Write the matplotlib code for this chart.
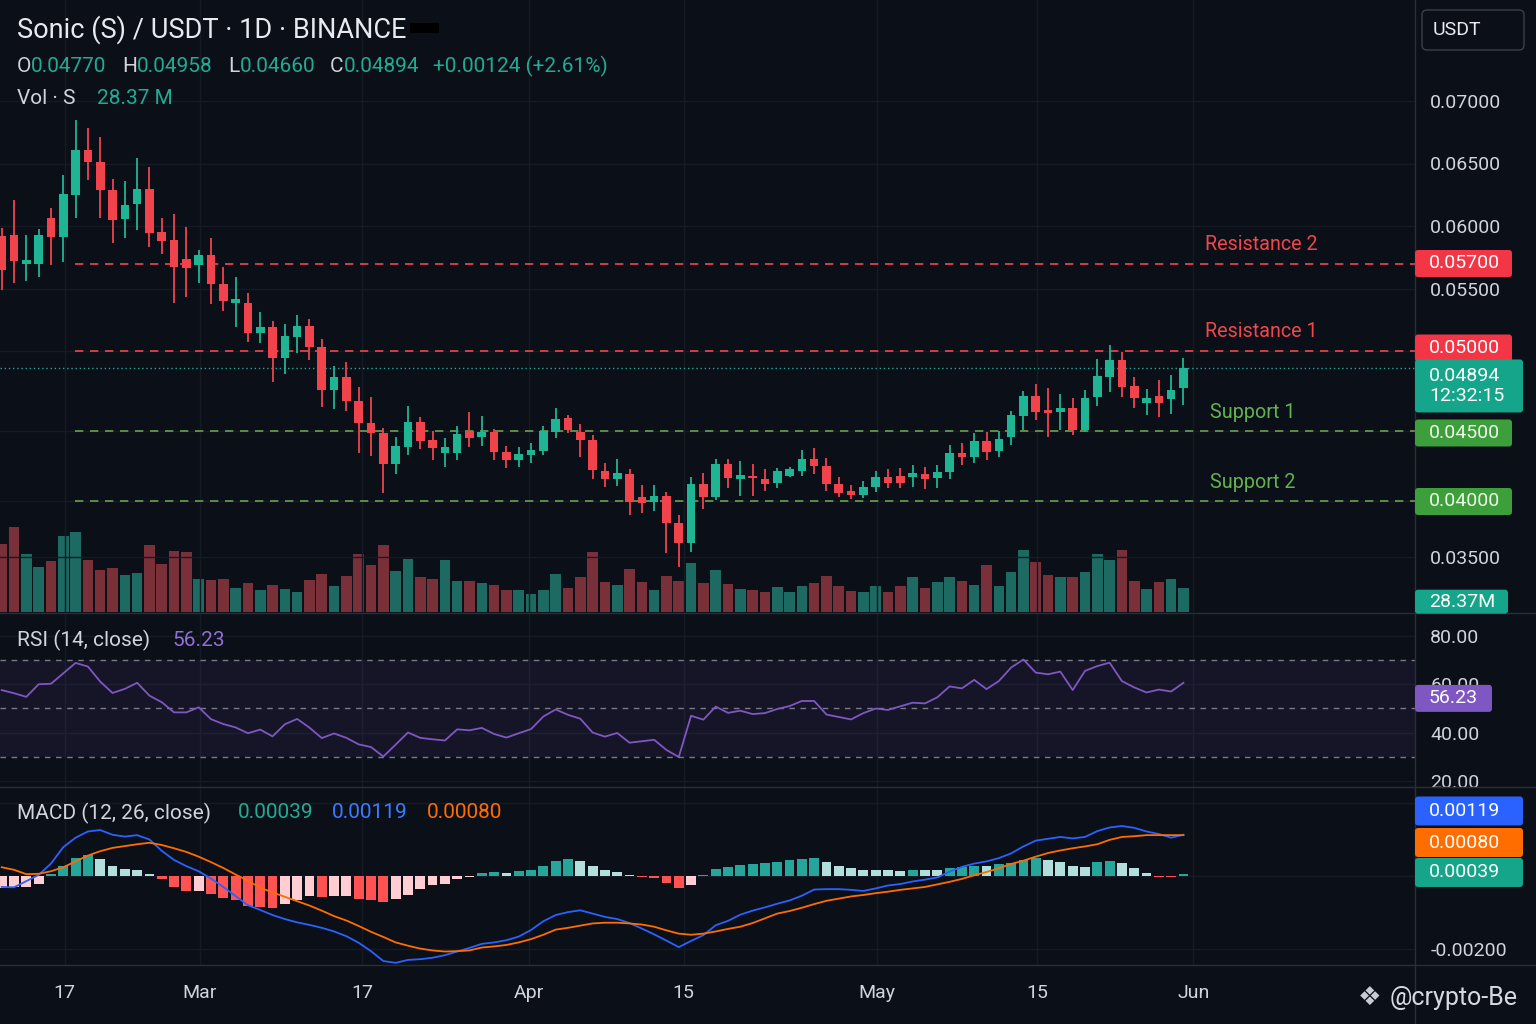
import numpy as np
import matplotlib
matplotlib.use('Agg')
import matplotlib.pyplot as plt
import matplotlib.transforms as mtrans
from matplotlib.patches import FancyBboxPatch, Rectangle
from matplotlib.lines import Line2D
from matplotlib.ticker import FormatStrFormatter, FuncFormatter, NullLocator

plt.rcParams['font.family'] = ['Roboto', 'DejaVu Sans']

# ---------------- data (daily candles, Sonic/USDT) ----------------
opens = [0.05920, 0.05928, 0.05696, 0.05696, 0.06064, 0.05912, 0.06248, 0.06608, 0.06512, 0.06288,
         0.06056, 0.06176, 0.06296, 0.05952, 0.05888, 0.05736, 0.05688, 0.05768, 0.05536, 0.05384,
         0.05384, 0.05144, 0.05192, 0.04956, 0.05112, 0.05200, 0.05032, 0.04756, 0.04838, 0.04688,
         0.04550, 0.04486, 0.04264, 0.04386, 0.04556, 0.04436, 0.04343, 0.04343, 0.04500, 0.04457,
         0.04493, 0.04350, 0.04293, 0.04329, 0.04357, 0.04493, 0.04581, 0.04493, 0.04436, 0.04214,
         0.04157, 0.04193, 0.04029, 0.03991, 0.04036, 0.03803, 0.03625, 0.04121, 0.04029, 0.04264,
         0.04157, 0.04179, 0.04157, 0.04129, 0.04179, 0.04214, 0.04300, 0.04250, 0.04121, 0.04071,
         0.04043, 0.04100, 0.04171, 0.04179, 0.04171, 0.04193, 0.04164, 0.04207, 0.04343, 0.04314,
         0.04429, 0.04357, 0.04457, 0.04594, 0.04719, 0.04631, 0.04619, 0.04644, 0.04506, 0.04713,
         0.04838, 0.04944, 0.04781, 0.04675, 0.04719, 0.04700, 0.04770]
highs = [0.05984, 0.06208, 0.05928, 0.05976, 0.06144, 0.06408, 0.06848, 0.06784, 0.06712, 0.06376,
         0.06360, 0.06544, 0.06472, 0.06064, 0.06096, 0.05992, 0.05808, 0.05904, 0.05672, 0.05592,
         0.05464, 0.05312, 0.05240, 0.05216, 0.05288, 0.05256, 0.05096, 0.04906, 0.04931, 0.04775,
         0.04713, 0.04519, 0.04457, 0.04656, 0.04588, 0.04500, 0.04450, 0.04531, 0.04619, 0.04594,
         0.04513, 0.04393, 0.04386, 0.04414, 0.04531, 0.04644, 0.04600, 0.04544, 0.04471, 0.04271,
         0.04300, 0.04229, 0.04114, 0.04114, 0.04064, 0.03875, 0.04171, 0.04200, 0.04300, 0.04300,
         0.04286, 0.04264, 0.04229, 0.04236, 0.04243, 0.04364, 0.04379, 0.04307, 0.04171, 0.04114,
         0.04143, 0.04214, 0.04229, 0.04236, 0.04257, 0.04243, 0.04257, 0.04400, 0.04414, 0.04486,
         0.04493, 0.04500, 0.04625, 0.04750, 0.04794, 0.04769, 0.04731, 0.04706, 0.04756, 0.04950,
         0.05048, 0.04994, 0.04838, 0.04763, 0.04819, 0.04850, 0.04958]
lows = [0.05488, 0.05544, 0.05560, 0.05592, 0.05688, 0.05712, 0.06064, 0.06368, 0.06064, 0.05864,
        0.05904, 0.05968, 0.05832, 0.05776, 0.05384, 0.05432, 0.05544, 0.05376, 0.05320, 0.05192,
        0.05072, 0.05064, 0.04806, 0.04856, 0.04988, 0.04944, 0.04650, 0.04638, 0.04625, 0.04343,
        0.04321, 0.04057, 0.04193, 0.04329, 0.04371, 0.04293, 0.04243, 0.04293, 0.04386, 0.04393,
        0.04293, 0.04236, 0.04243, 0.04271, 0.04329, 0.04450, 0.04486, 0.04314, 0.04157, 0.04100,
        0.04107, 0.03875, 0.03893, 0.03911, 0.03536, 0.03411, 0.03545, 0.03929, 0.04007, 0.04093,
        0.04036, 0.04036, 0.04071, 0.04093, 0.04171, 0.04179, 0.04193, 0.04071, 0.04029, 0.04014,
        0.04021, 0.04064, 0.04093, 0.04093, 0.04100, 0.04086, 0.04093, 0.04157, 0.04257, 0.04271,
        0.04293, 0.04314, 0.04400, 0.04506, 0.04569, 0.04457, 0.04506, 0.04471, 0.04493, 0.04656,
        0.04744, 0.04713, 0.04644, 0.04600, 0.04588, 0.04606, 0.04660]
closes = [0.05648, 0.05720, 0.05728, 0.05928, 0.05912, 0.06256, 0.06608, 0.06512, 0.06288, 0.06048,
          0.06168, 0.06296, 0.05944, 0.05880, 0.05672, 0.05664, 0.05768, 0.05536, 0.05400, 0.05416,
          0.05144, 0.05192, 0.04956, 0.05120, 0.05200, 0.05032, 0.04756, 0.04838, 0.04688, 0.04550,
          0.04486, 0.04264, 0.04393, 0.04556, 0.04429, 0.04379, 0.04386, 0.04479, 0.04450, 0.04493,
          0.04350, 0.04293, 0.04336, 0.04364, 0.04500, 0.04575, 0.04506, 0.04436, 0.04221, 0.04157,
          0.04200, 0.03991, 0.03982, 0.04036, 0.03803, 0.03625, 0.04121, 0.04029, 0.04264, 0.04164,
          0.04186, 0.04164, 0.04121, 0.04214, 0.04229, 0.04300, 0.04250, 0.04121, 0.04057, 0.04043,
          0.04100, 0.04171, 0.04129, 0.04129, 0.04200, 0.04157, 0.04207, 0.04343, 0.04314, 0.04429,
          0.04350, 0.04443, 0.04600, 0.04719, 0.04619, 0.04613, 0.04644, 0.04506, 0.04706, 0.04844,
          0.04944, 0.04775, 0.04706, 0.04706, 0.04675, 0.04756, 0.04894]
volumes = [79.7, 99.2, 67.7, 52.9, 59.5, 88.7, 93.4, 60.7, 49.0, 51.3,
           43.5, 45.5, 78.2, 56.4, 71.2, 70.4, 38.5, 37.3, 38.5, 28.0,
           33.8, 25.7, 31.5, 26.8, 23.7, 37.3, 44.7, 30.3, 41.7, 67.3,
           54.8, 77.8, 47.8, 62.2, 40.8, 38.2, 60.7, 35.8, 36.2, 33.5,
           31.5, 25.3, 25.7, 20.7, 25.7, 44.0, 28.4, 41.2, 70.4, 35.4,
           31.5, 49.8, 35.4, 26.0, 42.4, 35.8, 57.5, 33.8, 48.7, 33.0,
           26.8, 26.0, 23.7, 29.5, 23.7, 30.0, 33.8, 42.0, 30.0, 24.5,
           23.0, 30.3, 23.7, 30.3, 40.8, 28.0, 34.7, 40.8, 36.2, 31.5,
           54.5, 30.0, 46.7, 72.4, 58.4, 43.2, 41.2, 40.8, 47.0, 67.3,
           61.0, 72.4, 35.8, 26.8, 35.4, 38.5, 28.37]  # millions
rsi = [57.6, 56.3, 54.8, 60.0, 60.2, 64.5, 68.8, 67.3, 61.1, 56.4,
       58.1, 60.6, 55.3, 52.6, 48.4, 48.4, 50.5, 45.6, 43.6, 42.2,
       39.8, 41.3, 38.5, 43.5, 45.7, 42.1, 37.8, 39.7, 37.9, 35.2,
       34.1, 30.2, 35.1, 40.1, 37.9, 37.3, 36.8, 41.4, 41.0, 42.0,
       39.5, 38.0, 39.8, 41.5, 46.7, 49.6, 47.4, 45.8, 40.1, 38.4,
       39.9, 35.9, 36.5, 37.1, 32.9, 30.0, 47.0, 45.4, 50.8, 48.2,
       49.1, 47.7, 48.1, 49.8, 51.0, 53.1, 53.1, 47.5, 46.5, 45.5,
       48.1, 50.0, 49.4, 50.9, 52.4, 52.1, 54.6, 59.1, 58.3, 61.8,
       58.0, 61.3, 66.9, 70.2, 64.8, 64.1, 65.2, 57.6, 65.5, 67.5,
       68.9, 61.3, 58.7, 56.6, 57.8, 57.0, 60.6]
macd = [-0.00030, -0.00031, -0.00014, 0.00003, 0.00034, 0.00079, 0.00105, 0.00122, 0.00126, 0.00113,
        0.00108, 0.00112, 0.00100, 0.00069, 0.00044, 0.00027, 0.00013, -0.00007, -0.00030, -0.00055,
        -0.00080, -0.00093, -0.00107, -0.00118, -0.00127, -0.00134, -0.00142, -0.00152, -0.00165, -0.00183,
        -0.00206, -0.00233, -0.00238, -0.00230, -0.00228, -0.00224, -0.00217, -0.00207, -0.00197, -0.00186,
        -0.00182, -0.00176, -0.00166, -0.00148, -0.00124, -0.00107, -0.00099, -0.00094, -0.00103, -0.00112,
        -0.00118, -0.00129, -0.00144, -0.00160, -0.00177, -0.00195, -0.00178, -0.00162, -0.00135, -0.00123,
        -0.00106, -0.00095, -0.00086, -0.00076, -0.00067, -0.00054, -0.00037, -0.00036, -0.00036, -0.00038,
        -0.00041, -0.00034, -0.00026, -0.00022, -0.00015, -0.00010, -0.00004, 0.00012, 0.00025, 0.00034,
        0.00040, 0.00049, 0.00062, 0.00081, 0.00097, 0.00102, 0.00107, 0.00103, 0.00107, 0.00123,
        0.00133, 0.00137, 0.00132, 0.00122, 0.00115, 0.00105, 0.00113]
signal = [0.00024, 0.00017, 0.00005, 0.00006, 0.00013, 0.00024, 0.00040, 0.00056, 0.00068, 0.00077,
          0.00082, 0.00087, 0.00091, 0.00085, 0.00076, 0.00066, 0.00053, 0.00038, 0.00022, 0.00004,
          -0.00013, -0.00032, -0.00045, -0.00057, -0.00069, -0.00081, -0.00095, -0.00110, -0.00122, -0.00137,
          -0.00153, -0.00167, -0.00182, -0.00191, -0.00199, -0.00204, -0.00207, -0.00206, -0.00204, -0.00196,
          -0.00193, -0.00189, -0.00182, -0.00173, -0.00161, -0.00147, -0.00142, -0.00136, -0.00130, -0.00128,
          -0.00128, -0.00130, -0.00133, -0.00139, -0.00149, -0.00158, -0.00161, -0.00158, -0.00152, -0.00145,
          -0.00139, -0.00129, -0.00116, -0.00103, -0.00096, -0.00087, -0.00077, -0.00068, -0.00062, -0.00056,
          -0.00052, -0.00047, -0.00043, -0.00038, -0.00034, -0.00030, -0.00023, -0.00016, -0.00008, 0.00002,
          0.00011, 0.00021, 0.00033, 0.00042, 0.00053, 0.00063, 0.00070, 0.00076, 0.00081, 0.00087,
          0.00099, 0.00107, 0.00109, 0.00112, 0.00112, 0.00112, 0.00112]
hist = [-0.00033, -0.00029, -0.00029, -0.00022, 0.00005, 0.00027, 0.00048, 0.00058, 0.00047, 0.00027,
        0.00018, 0.00016, 0.00005, -0.00009, -0.00031, -0.00040, -0.00040, -0.00050, -0.00059, -0.00066,
        -0.00081, -0.00084, -0.00089, -0.00077, -0.00066, -0.00054, -0.00058, -0.00055, -0.00055, -0.00064,
        -0.00066, -0.00070, -0.00064, -0.00052, -0.00036, -0.00025, -0.00022, -0.00009, -0.00002, 0.00009,
        0.00011, 0.00007, 0.00013, 0.00016, 0.00027, 0.00042, 0.00047, 0.00042, 0.00027, 0.00016,
        0.00012, 0.00003, -0.00002, -0.00006, -0.00018, -0.00034, -0.00025, 0.00003, 0.00018, 0.00024,
        0.00030, 0.00034, 0.00035, 0.00039, 0.00044, 0.00046, 0.00048, 0.00038, 0.00028, 0.00021,
        0.00016, 0.00016, 0.00016, 0.00015, 0.00016, 0.00016, 0.00016, 0.00023, 0.00025, 0.00028,
        0.00028, 0.00032, 0.00036, 0.00044, 0.00048, 0.00044, 0.00038, 0.00028, 0.00025, 0.00038,
        0.00041, 0.00035, 0.00021, 0.00007, -0.00002, -0.00004, 0.00005]

resistance = [0.057, 0.050]
support = [0.045, 0.040]
res_names = ['Resistance 2', 'Resistance 1']
sup_names = ['Support 1', 'Support 2']
price_ticks = [0.035, 0.040, 0.045, 0.050, 0.055, 0.060, 0.065, 0.070]
rsi_ticks = [20, 40, 60, 80]
macd_ticks = [-0.002, 0.0, 0.002]
macd_tick_labels = ['-0.00200', '', '']
date_labels = ['17', 'Mar', '17', 'Apr', '15', 'May', '15', 'Jun']
date_pos = [5.1, 16.1, 29.3, 42.8, 55.4, 71.1, 84.1, 96.8]  # candle-index units

# ---------------- style ----------------
BG = '#0b0f18'
GRID = '#151a25'
SEP = '#2a2e39'
TXT = '#d1d4dc'
UP = '#1fb594'
DOWN = '#f0434b'
VUP = '#1c6a61'
VDOWN = '#7a3038'
RES = '#f0464c'
SUP = '#6e9f4f'
SUPTXT = '#62b250'
PURPLE = '#7e57c2'
BLUE = '#2962ff'
ORANGE = '#ff6d00'

W, H = 1536, 1024
fig = plt.figure(figsize=(W / 100, H / 100), dpi=100, facecolor=BG)
ident = mtrans.IdentityTransform()


def pane(top, bottom, sharex=None):
    return fig.add_axes([0, 1 - bottom / H, 1415 / W, (bottom - top) / H], sharex=sharex)


ax_p = pane(0, 612)
ax_v = ax_p.twinx()
ax_r = pane(613, 787, ax_p)
ax_m = pane(787, 965, ax_p)

# TradingView-like price scale (piecewise, as on the screenshot)
knot_p = [0.020, 0.035, 0.040, 0.045, 0.050, 0.090]
knot_t = [-113, 55, 111, 181, 261, 761]


def fwd(p):
    return np.interp(p, knot_p, knot_t)


def inv(t):
    return np.interp(t, knot_t, knot_p)


ax_p.set_yscale('function', functions=(fwd, inv))
ax_p.set_ylim(float(inv(0)), float(inv(612)))

n = len(closes)
x = np.arange(n)
o, h, l, c = map(np.array, (opens, highs, lows, closes))
up = c >= o
col = np.where(up, UP, DOWN)
xmax = (1415 - 1.7) / 12.31
ax_p.set_xlim(-0.14, xmax)

for ax in (ax_p, ax_r, ax_m, ax_v):
    ax.set_facecolor(BG)
    for s in ax.spines.values():
        s.set_visible(False)

ax_p.set_zorder(ax_v.get_zorder() + 1)
ax_p.patch.set_visible(False)

# volume
ax_v.bar(x, volumes, width=0.86, color=np.where(up, VUP, VDOWN), lw=0)
ax_v.set_ylim(0, 714)
ax_v.set_yticks([])

# candles
ax_p.vlines(x, l, h, colors=col, lw=1.3, zorder=3)
ax_p.bar(x, np.maximum(np.abs(c - o), 0.00004), bottom=np.minimum(o, c), width=0.7,
         color=col, lw=0, zorder=4)

# levels
for lvl, name in zip(resistance, res_names):
    ax_p.hlines(lvl, 5.95, xmax, colors=RES, linestyles=(0, (5, 4)), lw=1.2, zorder=2)
    ax_p.annotate(name, xy=(97.75, lvl), xytext=(0, 14), textcoords='offset points',
                  color=RES, fontsize=14.2, va='center', ha='left')
for lvl, name in zip(support, sup_names):
    ax_p.hlines(lvl, 5.95, xmax, colors=SUP, linestyles=(0, (5, 4)), lw=1.2, zorder=2)
    ax_p.annotate(name, xy=(98.15, lvl), xytext=(0, 13.3), textcoords='offset points',
                  color=SUPTXT, fontsize=14.2, va='center', ha='left')
ax_p.axhline(closes[-1], color='#26a69a', lw=1, ls=(0, (1, 2)), zorder=2)

# price scale labels: levels that carry a tag keep only their grid line
tagged = resistance + support
ax_p.set_yticks(price_ticks)
ax_p.yaxis.set_major_formatter(FuncFormatter(
    lambda v, pos: '' if min(abs(v - t) for t in tagged) < 1e-6 else f'{v:.5f}'))
ax_p.yaxis.set_minor_locator(NullLocator())
ax_p.yaxis.tick_right()

# RSI
ax_r.axhspan(30, 70, color=PURPLE, alpha=0.09, lw=0)
for lvl in (70, 50, 30):
    ax_r.axhline(lvl, color='#787b86', lw=1, ls=(0, (4, 4)))
ax_r.plot(x, rsi, color=PURPLE, lw=1.3)
ax_r.set_ylim(17.63, 89.38)
ax_r.set_yticks(rsi_ticks)
ax_r.yaxis.set_major_formatter(FormatStrFormatter('%.2f'))
ax_r.yaxis.tick_right()

# MACD
hcol = []
for i, v in enumerate(hist):
    prev = hist[i - 1] if i else v
    if v >= 0:
        hcol.append('#26a69a' if v > prev else '#b2dfdb')
    else:
        hcol.append('#ff5252' if v < prev else '#ffcdd2')
ax_m.bar(x, hist, width=0.8, color=hcol, lw=0)
ax_m.plot(x, macd, color=BLUE, lw=1.3)
ax_m.plot(x, signal, color=ORANGE, lw=1.3)
ax_m.set_ylim(-0.002439, 0.002439)
ax_m.set_yticks(macd_ticks)
ax_m.set_yticklabels(macd_tick_labels)
ax_m.yaxis.tick_right()

ax_m.set_xticks(date_pos)
ax_m.set_xticklabels(date_labels)
for ax in (ax_p, ax_r, ax_m):
    ax.grid(True, color=GRID, lw=1)
    ax.set_axisbelow(True)
    ax.tick_params(axis='y', length=0, pad=11, labelsize=14, labelcolor=TXT,
                   left=False, labelleft=False, right=True, labelright=True)
    ax.tick_params(axis='x', length=0, labelbottom=False)
ax_m.tick_params(axis='x', labelbottom=True, labelsize=14, labelcolor=TXT, pad=14)


# ---------------- value tags on the right scale ----------------
def tag(ax, val, text, fc, w=97, hgt=27, dy=0, tc='white', fs=14):
    yc = ax.transData.transform((0, val))[1] + dy
    fig.add_artist(FancyBboxPatch((1415, yc - hgt / 2), w, hgt,
                                  boxstyle='round,pad=0,rounding_size=3',
                                  fc=fc, ec='none', transform=ident, zorder=5))
    fig.text(1429, yc, text, transform=ident, color=tc, fontsize=fs,
             va='center', ha='left', zorder=6, linespacing=1.15)


tag(ax_p, 0.057, '0.05700', '#f23645')
tag(ax_p, 0.050, '0.05000', '#f23645', dy=3)
tag(ax_p, closes[-1], '0.04894\n12:32:15', '#15a58a', w=108, hgt=53, dy=-18)
tag(ax_p, 0.045, '0.04500', '#3c9f3c', dy=-2, tc='#eef7e6')
tag(ax_p, 0.040, '0.04000', '#3c9f3c', dy=-0.5, tc='#eef7e6')
tag(ax_v, volumes[-1], '28.37M', '#15a58a', w=93, hgt=24, dy=-14)
tag(ax_r, 56.23, '56.23', PURPLE, w=77, hgt=27, dy=-5)
tag(ax_m, 0.00119, '0.00119', BLUE, w=108, hgt=29, dy=21.6)
tag(ax_m, 0.00080, '0.00080', ORANGE, w=108, hgt=29, dy=4.3)
tag(ax_m, 0.00039, '0.00039', '#15a58a', w=108, hgt=29, dy=-10.7)


# ---------------- header / legends ----------------
def ftxt(xp, yp, s, color=TXT, size=15):
    fig.text(xp, H - yp, s, transform=ident, color=color, fontsize=size,
             va='center', ha='left', zorder=6)


ftxt(17, 30, 'Sonic (S) / USDT · 1D · BINANCE', '#e8eaf0', 19.5)
fig.add_artist(Rectangle((410, H - 33), 29, 10, transform=ident, fc='black', ec='none', zorder=6))
G = '#22ab94'
for xp, s, cl in [(17, 'O', TXT), (31, '0.04770', G), (122, 'H', TXT), (137, '0.04958', G),
                  (228, 'L', TXT), (240, '0.04660', G), (330, 'C', TXT), (344, '0.04894', G),
                  (433, '+0.00124 (+2.61%)', G)]:
    ftxt(xp, 66, s, cl)
ftxt(17, 99, 'Vol · S', TXT)
ftxt(97, 99, '28.37 M', G)
ftxt(17, 640, 'RSI (14, close)', TXT)
ftxt(172, 640, '56.23', '#8f6fd6')
ftxt(17, 813, 'MACD (12, 26, close)', TXT)
ftxt(238, 813, '0.00039', G)
ftxt(332, 813, '0.00119', '#3b7bff')
ftxt(427, 813, '0.00080', ORANGE)

# USDT button
fig.add_artist(FancyBboxPatch((1422, H - 50), 102, 40, boxstyle='round,pad=0,rounding_size=5',
                              fc=BG, ec='#3a3f4c', lw=1, transform=ident, zorder=6))
ftxt(1433, 30, 'USDT', '#e8eaf0', 14)

# watermark
fig.text(1358, H - 998, '❖', transform=ident, color='#c8cbd3', fontsize=19,
         va='center', ha='left', family=['DejaVu Sans'])
ftxt(1390, 998, '@crypto-Be', '#d6d9e0', 18)

# pane separators
for yp in (613, 787, 965):
    fig.add_artist(Line2D([0, W], [H - yp, H - yp], transform=ident, color=SEP, lw=1, zorder=4))
fig.add_artist(Line2D([1415, 1415], [0, H], transform=ident, color=SEP, lw=1, zorder=4))

fig.savefig('out.png', dpi=100, facecolor=BG)
